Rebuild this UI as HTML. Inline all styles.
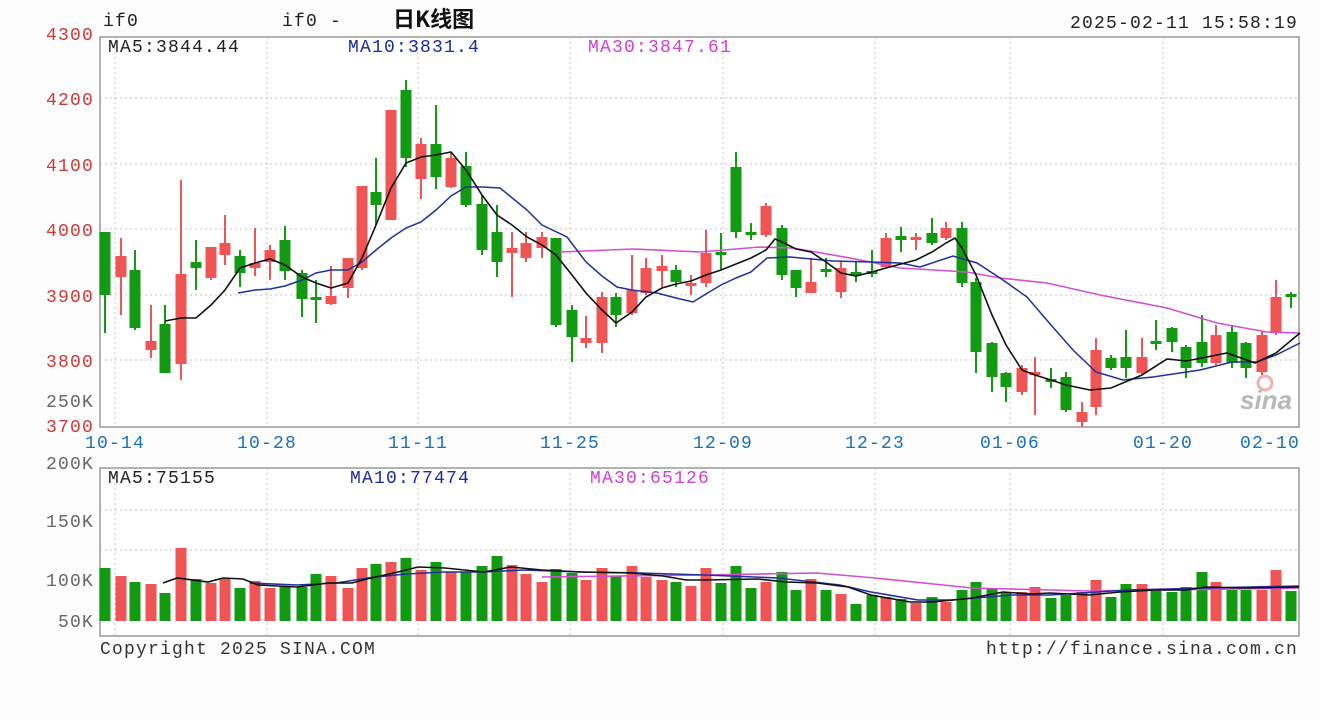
<!DOCTYPE html>
<html><head><meta charset="utf-8"><style>
html,body{margin:0;padding:0;background:#fff;width:1320px;height:720px;overflow:hidden}
svg{display:block}
text{font-family:"Liberation Mono","Noto Sans CJK SC",monospace;font-size:18px;letter-spacing:1.2px}
</style></head><body>
<svg width="1320" height="720" xmlns="http://www.w3.org/2000/svg">
<rect width="1320" height="720" fill="#fdfdfd"/>
<rect x="100" y="37" width="1199" height="390" fill="#fff" stroke="#999" stroke-width="1.5"/>
<g stroke="#c4c4c4" stroke-dasharray="2,3" stroke-width="1">
<line x1="100" y1="98" x2="1299" y2="98"/><line x1="100" y1="164" x2="1299" y2="164"/>
<line x1="100" y1="229" x2="1299" y2="229"/><line x1="100" y1="295" x2="1299" y2="295"/>
<line x1="100" y1="360" x2="1299" y2="360"/>
<line x1="115" y1="37" x2="115" y2="427"/><line x1="267" y1="37" x2="267" y2="427"/>
<line x1="418" y1="37" x2="418" y2="427"/><line x1="570" y1="37" x2="570" y2="427"/>
<line x1="723" y1="37" x2="723" y2="427"/><line x1="875" y1="37" x2="875" y2="427"/>
<line x1="1010" y1="37" x2="1010" y2="427"/><line x1="1163" y1="37" x2="1163" y2="427"/>
</g>
<rect x="100" y="468" width="1199" height="168" fill="#fff" stroke="#999" stroke-width="1.5"/>
<g stroke="#c4c4c4" stroke-dasharray="2,3" stroke-width="1">
<line x1="100" y1="510" x2="1299" y2="510"/><line x1="100" y1="550" x2="1299" y2="550"/>
<line x1="115" y1="468" x2="115" y2="636"/><line x1="267" y1="468" x2="267" y2="636"/>
<line x1="418" y1="468" x2="418" y2="636"/><line x1="570" y1="468" x2="570" y2="636"/>
<line x1="723" y1="468" x2="723" y2="636"/><line x1="875" y1="468" x2="875" y2="636"/>
<line x1="1010" y1="468" x2="1010" y2="636"/><line x1="1163" y1="468" x2="1163" y2="636"/>
</g>
<circle cx="1265" cy="383" r="7" fill="none" stroke="#f0b0b0" stroke-width="3"/>
<text x="1240" y="409" fill="#b8b8b8" style="font-family:'Liberation Sans',sans-serif;font-size:26px;font-weight:bold;font-style:italic;letter-spacing:0">sina</text>

<g id="candles"></g>
<g id="vols"></g>

<script>
var C=[[105,'G',232,295,232,333],[121,'R',256,277,238,315],[135,'G',270,328,250,330],[151,'R',341,350,305,358],[165,'G',324,373,305,373],[181,'R',274,364,180,380],[196,'G',262,268,240,290],[211,'R',247,278,247,280],[225,'R',243,255,215,265],[240,'G',256,273,250,287],[255,'R',263,268,228,276],[270,'R',250,262,245,280],[285,'G',240,271,226,280],[302,'G',273,299,270,317],[316,'G',297,300,280,323],[331,'R',296,304,266,305],[348,'R',258,288,258,298],[362,'R',186,268,186,270],[376,'G',192,205,158,225],[391,'R',110,220,110,220],[406,'G',90,158,80,167],[421,'R',144,179,138,199],[436,'G',144,177,105,189],[451,'R',158,187,152,188],[466,'G',166,205,152,207],[482,'G',204,250,195,255],[497,'G',232,262,205,277],[512,'R',248,253,232,297],[526,'R',243,258,232,262],[542,'R',237,248,232,258],[556,'G',238,325,238,327],[572,'G',310,337,305,362],[586,'R',338,343,316,348],[602,'R',297,343,292,353],[616,'G',297,315,293,327],[632,'R',290,313,255,315],[646,'R',268,293,258,295],[662,'R',266,271,255,287],[676,'G',270,282,265,287],[691,'R',283,286,275,295],[706,'R',253,283,230,287],[721,'G',252,255,233,270],[736,'G',167,232,152,238],[751,'G',232,235,223,240],[766,'R',206,235,203,237],[782,'G',228,275,225,280],[796,'G',270,288,270,297],[811,'R',282,293,258,293],[826,'G',269,271,258,277],[841,'R',268,292,262,298],[856,'G',272,274,262,282],[872,'G',271,273,250,277],[886,'R',238,267,233,267],[901,'G',236,240,227,252],[916,'R',237,239,233,250],[932,'G',233,243,218,245],[946,'R',228,238,222,240],[962,'G',228,283,222,287],[976,'G',282,352,278,373],[992,'G',343,377,342,392],[1006,'G',373,387,372,402],[1022,'R',368,392,365,395],[1035,'R',372,374,357,415],[1051,'G',379,381,368,388],[1066,'G',377,410,372,412],[1082,'R',412,422,402,427],[1096,'R',350,407,338,415],[1111,'G',358,368,355,370],[1126,'G',357,368,330,378],[1142,'R',357,373,338,375],[1156,'G',341,344,320,350],[1172,'G',328,342,327,352],[1186,'G',347,368,345,378],[1202,'G',342,363,315,367],[1216,'R',335,363,325,365],[1232,'G',332,363,325,368],[1246,'G',343,368,342,378],[1262,'R',335,372,332,375],[1276,'R',297,333,280,335],[1291,'G',294,297,292,308]];
var V=[568,576,582,584,593,548,579,583,579,588,581,588,587,587,574,576,588,568,564,562,558,570,562,572,572,566,556,565,574,582,569,573,580,568,576,566,577,580,582,586,568,583,566,588,582,572,590,579,590,594,604,595,597,599,603,597,602,590,582,588,592,592,587,598,595,592,580,597,584,584,591,592,587,572,582,590,590,590,570,591];
var ns="http://www.w3.org/2000/svg",cg=document.getElementById('candles'),vg=document.getElementById('vols');
function el(p,t,a){var e=document.createElementNS(ns,t);for(var k in a)e.setAttribute(k,a[k]);p.appendChild(e);}
C.forEach(function(c,i){var col=c[1]=='G'?'#139a13':'#f05555';
el(cg,'line',{x1:c[0],x2:c[0],y1:c[4],y2:c[5],stroke:col,'stroke-width':2});
el(cg,'rect',{x:c[0]-5.5,y:c[2],width:11,height:Math.max(3,c[3]-c[2]),fill:col});
el(vg,'rect',{x:c[0]-5.5,y:V[i],width:11,height:621-V[i],fill:col});});
</script>

<polyline fill="none" stroke="#d050d0" stroke-width="1.6" points="560,252 633,249 700,252 760,247 793,248 850,258 900,268 967,272 1000,278 1047,283 1100,295 1167,308 1217,323 1267,332 1300,333"/>
<polyline fill="none" stroke="#22309a" stroke-width="1.5" points="238,293 255,290 270,289 285,286 302,280 316,273 331,270 348,270 362,262 376,250 391,238 406,228 421,222 436,210 451,196 466,187 482,187 500,188 527,210 542,225 567,237 586,262 602,276 617,287 632,290 657,293 676,298 693,302 706,294 721,285 736,278 751,272 767,258 790,257 833,261 872,262 900,263 920,267 953,256 977,263 1000,278 1027,297 1051,325 1073,350 1096,372 1123,380 1153,377 1200,370 1232,362 1257,362 1276,355 1300,343"/>
<polyline fill="none" stroke="#111" stroke-width="1.6" points="165,321 181,318 196,318 211,305 225,290 240,268 255,263 270,259 285,265 302,277 316,283 331,288 348,283 362,258 376,225 391,188 406,163 421,157 436,155 451,152 466,170 482,195 497,215 512,225 527,237 542,245 556,255 572,275 586,293 602,310 616,323 632,312 646,297 662,288 676,284 691,281 706,275 721,270 736,264 751,258 766,250 775,239 782,242 796,249 811,252 826,262 841,273 856,276 872,272 886,268 901,264 916,260 932,252 946,243 955,238 962,248 976,275 992,315 1006,345 1022,370 1035,375 1051,380 1066,385 1090,390 1111,388 1130,380 1142,375 1167,359 1186,361 1202,358 1227,353 1255,363 1276,353 1300,333"/>
<polyline fill="none" stroke="#d050d0" stroke-width="1.6" points="542,577 705,575 817,573 875,578 972,588 1089,591 1299,588"/>
<polyline fill="none" stroke="#22309a" stroke-width="1.6" points="250,583 297,585 336,583 375,577 406,574 445,572 484,572 523,570 581,572 640,573 705,575 778,578 840,585 871,592 918,600 953,600 1011,595 1050,595 1128,590 1206,588 1299,586"/>
<polyline fill="none" stroke="#111" stroke-width="1.6" points="163,583 177,578 208,582 223,578 243,579 258,585 297,587 328,583 352,583 367,579 398,572 418,567 445,568 484,572 511,567 542,570 581,572 632,573 663,576 686,580 705,580 758,579 786,582 817,583 848,587 871,595 910,602 933,602 972,598 1003,592 1031,594 1050,593 1089,595 1120,592 1155,590 1186,590 1206,587 1245,588 1299,587"/>

<text x="103" y="26" fill="#222">if0</text>
<text x="282" y="26" fill="#222">if0 - </text>
<text x="393" y="27" fill="#111" style="font-family:'Noto Sans CJK SC',sans-serif;font-size:22px;font-weight:bold;letter-spacing:0px">日K线图</text>
<text x="1298" y="28" fill="#222" text-anchor="end">2025-02-11 15:58:19</text>
<text x="108" y="52" fill="#222">MA5:3844.44</text>
<text x="348" y="52" fill="#1a2aa0">MA10:3831.4</text>
<text x="588" y="52" fill="#d040d0">MA30:3847.61</text>
<g fill="#d03838" text-anchor="end">
<text x="94" y="40">4300</text><text x="94" y="105">4200</text><text x="94" y="171">4100</text>
<text x="94" y="236">4000</text><text x="94" y="302">3900</text><text x="94" y="367">3800</text>
<text x="94" y="432">3700</text></g>
<g fill="#666" text-anchor="end">
<text x="94" y="407">250K</text><text x="94" y="469">200K</text><text x="94" y="527">150K</text>
<text x="94" y="586">100K</text><text x="94" y="627">50K</text></g>
<g fill="#1a70b8" text-anchor="middle">
<text x="115" y="448">10-14</text><text x="267" y="448">10-28</text><text x="418" y="448">11-11</text>
<text x="570" y="448">11-25</text><text x="723" y="448">12-09</text><text x="875" y="448">12-23</text>
<text x="1010" y="448">01-06</text><text x="1163" y="448">01-20</text><text x="1270" y="448">02-10</text></g>
<text x="108" y="483" fill="#222">MA5:75155</text>
<text x="350" y="483" fill="#1a2aa0">MA10:77474</text>
<text x="590" y="483" fill="#d040d0">MA30:65126</text>
<text x="100" y="654" fill="#333">Copyright 2025 SINA.COM</text>
<text x="1298" y="654" fill="#333" text-anchor="end">http://finance.sina.com.cn</text>
</svg>
</body></html>
